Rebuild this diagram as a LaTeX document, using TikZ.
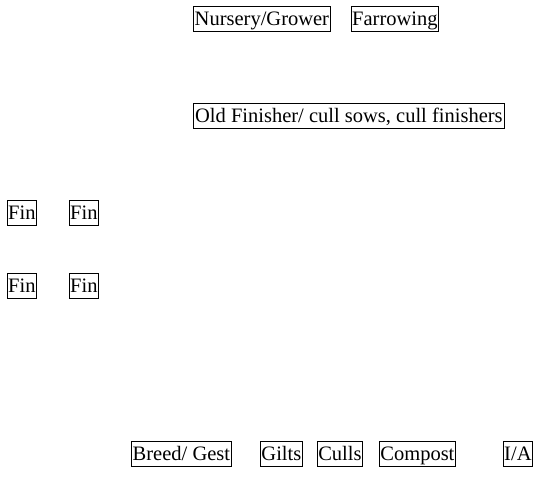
\documentclass[tikz,border=0pt]{standalone}
\usepackage{fontspec}
\setmainfont{Liberation Serif}
\begin{document}
\begin{tikzpicture}[x=1pt,y=-1pt,
  lbl/.style={draw=black,line width=0.8pt,inner sep=0pt,minimum height=25pt,text height=19.5pt,text depth=5.5pt,font=\fontsize{20.5}{22}\selectfont,anchor=west}]
\useasboundingbox (0,0) rectangle (544,477);
\node[lbl,minimum width=137pt] (nursery) at (193,18.5) {Nursery/Grower};
\node[lbl,minimum width=87pt] (farrow) at (351,18.5) {Farrowing};
\node[lbl,minimum width=311pt] (old) at (193,115.5) {Old Finisher/ cull sows, cull finishers};
\node[lbl,minimum width=29pt] (fin1) at (7,212.5) {Fin};
\node[lbl,minimum width=29pt] (fin2) at (69,212.5) {Fin};
\node[lbl,minimum width=29pt] (fin3) at (7,285.5) {Fin};
\node[lbl,minimum width=29pt] (fin4) at (69,285.5) {Fin};
\node[lbl,minimum width=100pt] (breed) at (131,453.5) {Breed/ Gest};
\node[lbl,minimum width=42pt] (gilts) at (260,453.5) {Gilts};
\node[lbl,minimum width=45pt] (culls) at (317,453.5) {Culls};
\node[lbl,minimum width=76pt] (compost) at (379,453.5) {Compost};
\node[lbl,minimum width=29pt] (ia) at (503,453.5) {I/A};
\end{tikzpicture}
\end{document}
